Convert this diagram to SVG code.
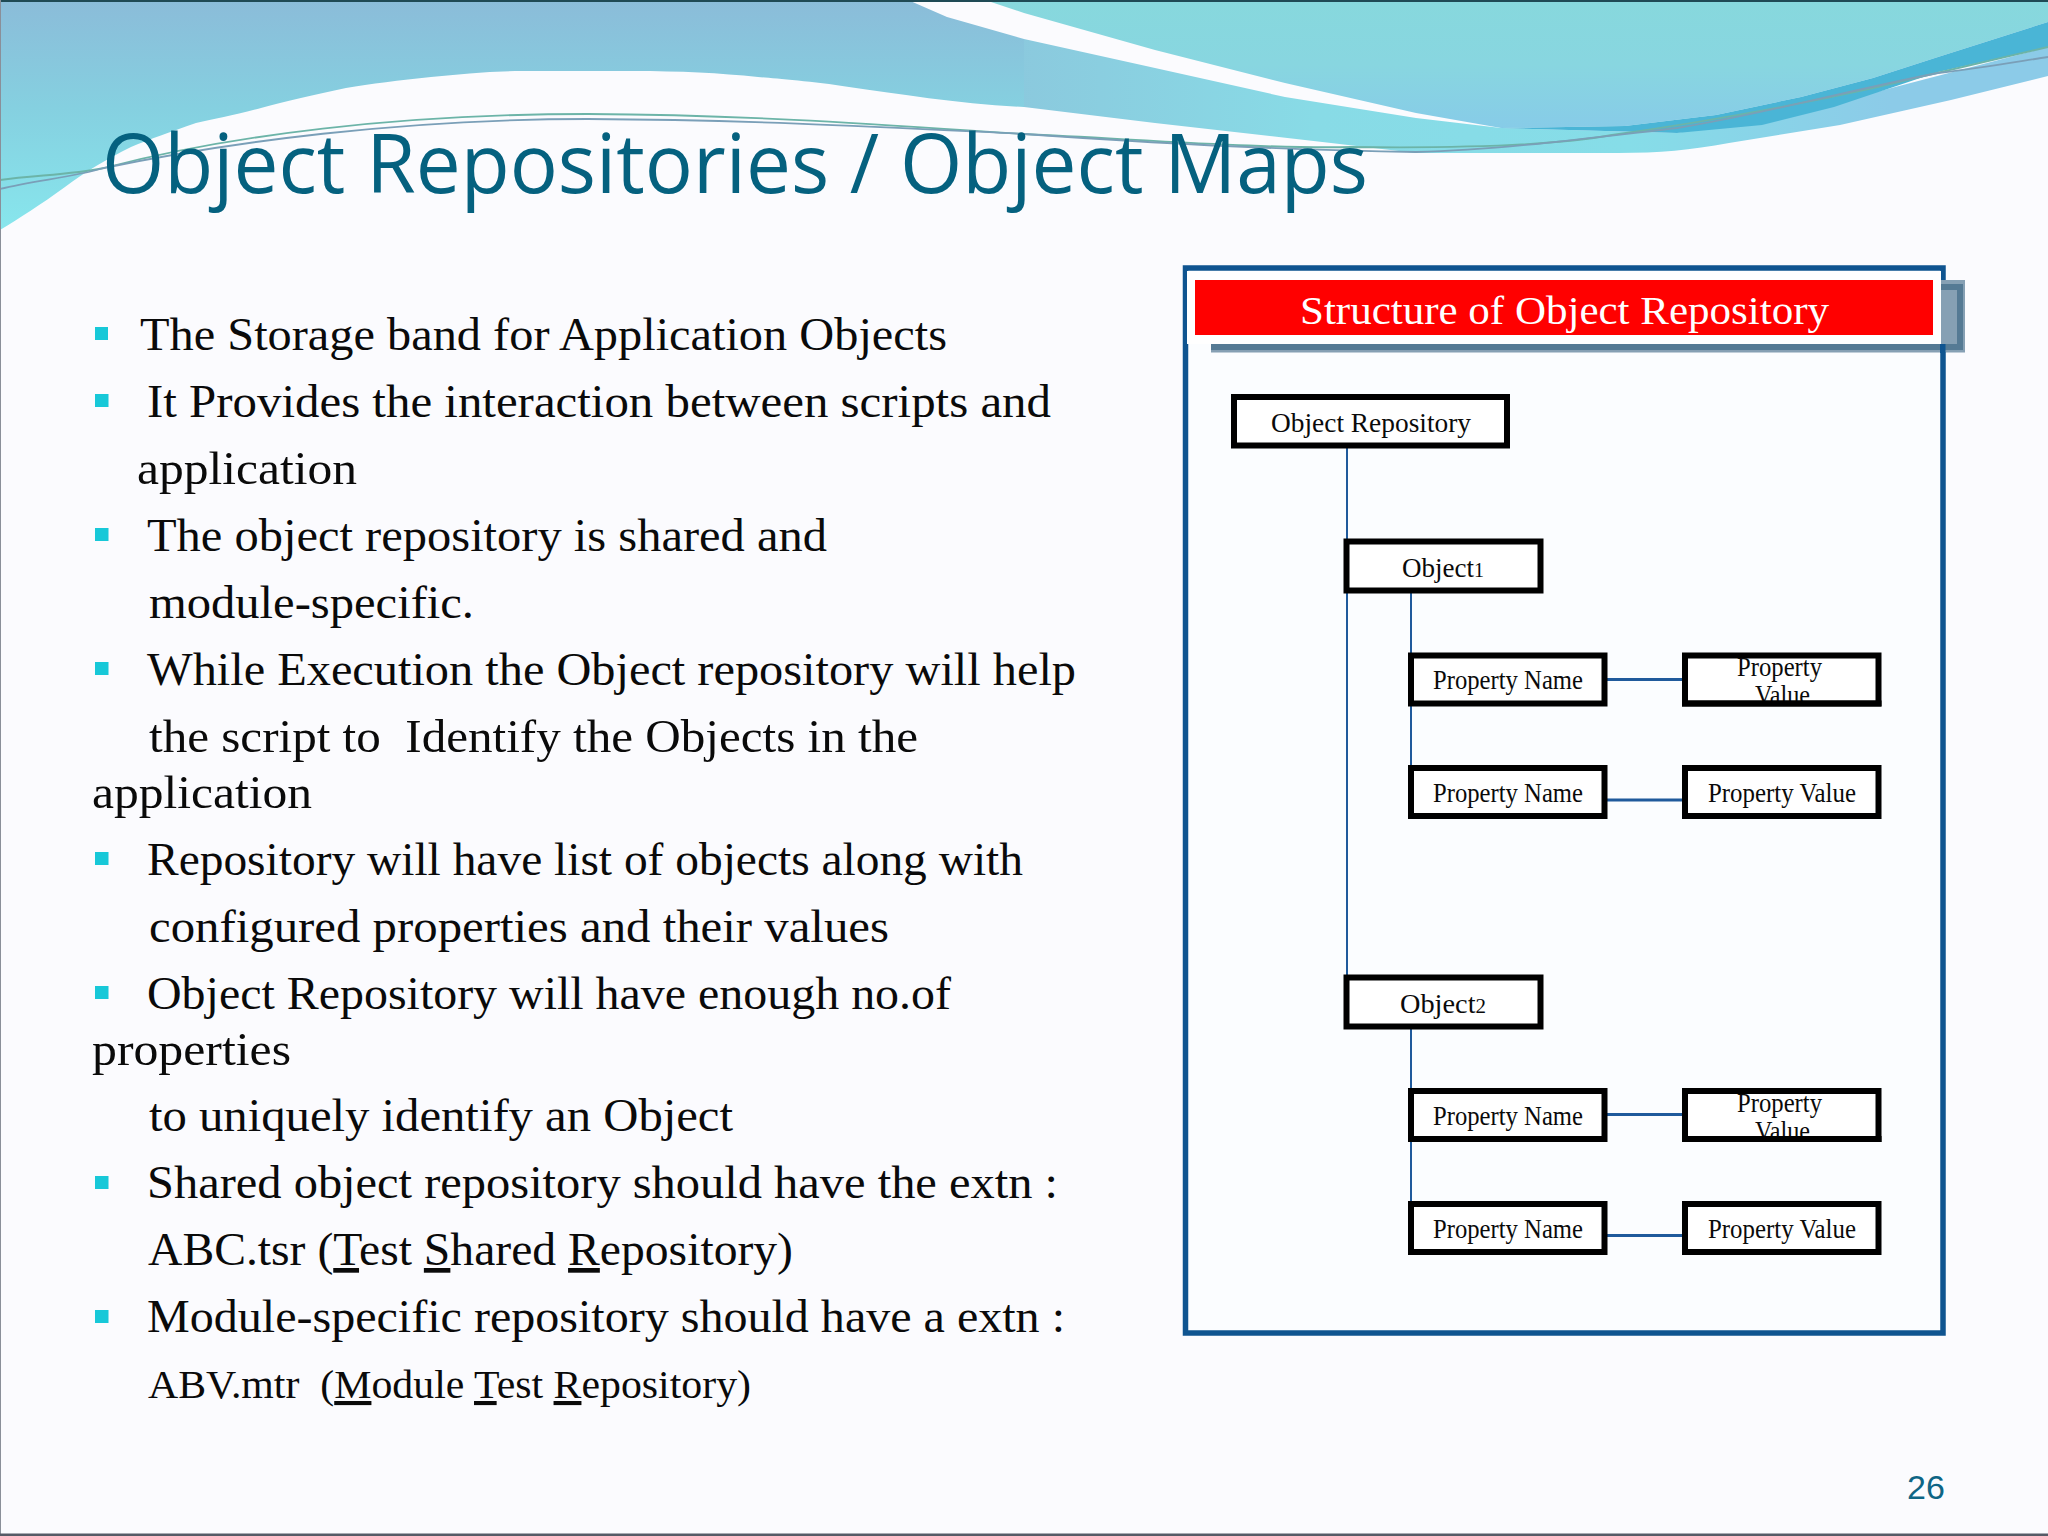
<svg xmlns="http://www.w3.org/2000/svg" width="2048" height="1536" viewBox="0 0 2048 1536">
<style>
.b{font-family:"Liberation Serif",serif;font-size:47px;fill:#0a0a0a}
.s{font-size:41px}
.u{text-decoration:underline}
.n{font-family:"Liberation Serif",serif;font-size:27px;fill:#0a0a0a}
.box{fill:#fff;stroke:#000;stroke-width:6}
.c{stroke:#1f5a9c;stroke-width:2;fill:none}
.h{stroke-width:3}
.bul{fill:#17c8d8}
.ln{fill:none;stroke-width:1.8}
</style>
<defs>
<linearGradient id="g1" gradientUnits="userSpaceOnUse" x1="0" y1="0" x2="0" y2="240"><stop offset="0" stop-color="#8bbcd9"/><stop offset=".45" stop-color="#85d0e0"/><stop offset="1" stop-color="#88e8ee"/></linearGradient>
<linearGradient id="g2" gradientUnits="userSpaceOnUse" x1="0" y1="0" x2="0" y2="130"><stop offset="0" stop-color="#87d8dd"/><stop offset=".5" stop-color="#88d6e0"/><stop offset="1" stop-color="#87cbe8"/></linearGradient>
<linearGradient id="g3" gradientUnits="userSpaceOnUse" x1="1000" y1="0" x2="2048" y2="0"><stop offset="0" stop-color="#8bc8dd"/><stop offset=".3" stop-color="#88dbe6"/><stop offset=".6" stop-color="#86dde8"/><stop offset=".85" stop-color="#8ccbe8"/><stop offset="1" stop-color="#8ccbe8"/></linearGradient>
</defs>
<rect width="2048" height="1536" fill="#fbfbfe"/>
<g id="header">
<path fill="url(#g1)" d="M0 0H908L947 17L1024 39V107C960 104 900 94 849 87C810 81 770 78 758 77C720 73 680 71 633 71H522C490 71 460 74 431 77C400 80 370 84 346 88C315 95 285 101 261 108C235 115 215 119 196 123C170 132 150 139 131 147C105 160 85 172 65 187C40 205 20 218 0 230Z"/>
<path fill="url(#g2)" d="M985 0H2048V22L1938 57L1873 78L1801 97L1716 115L1625 126L1501 128L1416 113L1285 83L1155 50L1024 13Z"/>
<path fill="url(#g3)" d="M1024 39L1155 68L1285 97L1416 118L1501 128L1677 133L1834 103L2048 47V76L1951 100L1840 125L1729 143C1690 150 1660 153 1618 153H1416L1331 143L1155 123L1024 107Z"/>
<path fill="#4ab5d6" d="M1501 128L1625 126L1716 115L1801 97L1873 78L1938 57L2048 22V47L1938 72L1834 107L1762 125L1677 133Z"/>
<path class="ln" stroke="#6cb4a8" d="M0 180C35 175 70 175 104 168C230 135 400 114 588 114C760 115 900 126 1024 134C1150 140 1270 149 1351 147C1430 148 1540 148 1612 135C1700 123 1800 104 1873 88C1940 72 2000 58 2048 47"/>
<path class="ln" stroke="#7a9fb8" d="M0 189C35 180 70 178 104 168C230 142 400 119 588 119C760 120 900 128 1024 134C1150 143 1280 150 1416 152C1500 150 1590 138 1677 128C1760 115 1850 90 1938 73C1980 68 2015 62 2048 57"/>
<rect x="0" y="0" width="2048" height="2" fill="#1f4a55"/>
<rect x="0" y="0" width="1" height="1536" fill="#8a8f99"/>
<rect x="0" y="1533.5" width="2048" height="2.5" fill="#555a66"/>
</g>
<text id="title" x="102" y="193" font-family="Open Sans, sans-serif" font-size="82" fill="#05617f" textLength="1266" lengthAdjust="spacingAndGlyphs">Object Repositories / Object Maps</text>
<g id="bullets">
<g class="bul">
<rect x="95" y="327" width="13" height="13"/>
<rect x="95" y="394" width="13.5" height="13"/>
<rect x="95" y="528" width="13.5" height="13"/>
<rect x="95" y="662" width="13.5" height="13"/>
<rect x="95" y="852" width="13.5" height="13"/>
<rect x="95" y="986" width="13.5" height="13"/>
<rect x="95" y="1176" width="13.5" height="13"/>
<rect x="95" y="1310" width="13.5" height="13"/>
</g>
<text class="b" xml:space="preserve" x="140" y="350" textLength="807" lengthAdjust="spacingAndGlyphs">The Storage band for Application Objects</text>
<text class="b" xml:space="preserve" x="147" y="417" textLength="904" lengthAdjust="spacingAndGlyphs">It Provides the interaction between scripts and</text>
<text class="b" xml:space="preserve" x="137" y="484" textLength="220" lengthAdjust="spacingAndGlyphs">application</text>
<text class="b" xml:space="preserve" x="147" y="551" textLength="680" lengthAdjust="spacingAndGlyphs">The object repository is shared and</text>
<text class="b" xml:space="preserve" x="149" y="618" textLength="325" lengthAdjust="spacingAndGlyphs">module-specific.</text>
<text class="b" xml:space="preserve" x="147" y="685" textLength="929" lengthAdjust="spacingAndGlyphs">While Execution the Object repository will help</text>
<text class="b" xml:space="preserve" x="149" y="752" textLength="769" lengthAdjust="spacingAndGlyphs">the script to  Identify the Objects in the</text>
<text class="b" xml:space="preserve" x="92" y="808" textLength="220" lengthAdjust="spacingAndGlyphs">application</text>
<text class="b" xml:space="preserve" x="147" y="875" textLength="876" lengthAdjust="spacingAndGlyphs">Repository will have list of objects along with</text>
<text class="b" xml:space="preserve" x="149" y="942" textLength="740" lengthAdjust="spacingAndGlyphs">configured properties and their values</text>
<text class="b" xml:space="preserve" x="147" y="1009" textLength="804" lengthAdjust="spacingAndGlyphs">Object Repository will have enough no.of</text>
<text class="b" xml:space="preserve" x="92" y="1065" textLength="199" lengthAdjust="spacingAndGlyphs">properties</text>
<text class="b" xml:space="preserve" x="149" y="1131" textLength="584" lengthAdjust="spacingAndGlyphs">to uniquely identify an Object</text>
<text class="b" xml:space="preserve" x="147" y="1198" textLength="911" lengthAdjust="spacingAndGlyphs">Shared object repository should have the extn :</text>
<text class="b" xml:space="preserve" x="148" y="1265" textLength="645" lengthAdjust="spacingAndGlyphs">ABC.tsr (<tspan class="u">T</tspan>est <tspan class="u">S</tspan>hared <tspan class="u">R</tspan>epository)</text>
<text class="b" xml:space="preserve" x="147" y="1332" textLength="918" lengthAdjust="spacingAndGlyphs">Module-specific repository should have a extn :</text>
<text class="b s" xml:space="preserve" x="148" y="1398" textLength="603" lengthAdjust="spacingAndGlyphs">ABV.mtr  (<tspan class="u">M</tspan>odule <tspan class="u">T</tspan>est <tspan class="u">R</tspan>epository)</text>
</g>
<g id="panel">
<rect x="1185.5" y="268" width="757.5" height="1065" fill="#fbfdff" stroke="#0f5490" stroke-width="5.5"/>
<rect x="1211" y="280" width="754" height="72.5" fill="#86a0b4"/>
<path d="M1940 287H1960V347H1211" fill="none" stroke="#557a94" stroke-width="6"/>
<rect x="1187" y="271" width="754" height="73" fill="#fff"/>
<rect x="1940" y="344" width="5.5" height="9" fill="#0f5490"/>
<rect x="1195" y="280" width="738" height="55" fill="#ff0000"/>
<text x="1300" y="324" font-family="Liberation Serif, serif" font-size="41" fill="#fff" textLength="529" lengthAdjust="spacingAndGlyphs">Structure of Object Repository</text>
</g>
<g id="connectors">
<path class="c" d="M1347 448V975"/>
<path class="c" d="M1411 593V810"/>
<path class="c" d="M1411 1029V1243"/>
<path class="c h" d="M1607 679.5H1683"/>
<path class="c h" d="M1607 800H1683"/>
<path class="c h" d="M1607 1114.5H1683"/>
<path class="c h" d="M1607 1235.5H1683"/>
</g>
<g id="node-object-repository"><rect class="box" x="1234" y="397" width="273" height="48.5"/><text class="n" x="1271" y="432" textLength="200" lengthAdjust="spacingAndGlyphs">Object Repository</text></g>
<g id="node-object1"><rect class="box" x="1346.5" y="541.5" width="194" height="49"/><text class="n" x="1402" y="577" textLength="82" lengthAdjust="spacingAndGlyphs">Object<tspan font-size="20">1</tspan></text></g>
<g id="node-pn1"><rect class="box" x="1411" y="655.5" width="193.5" height="48"/><text class="n" x="1433" y="689" textLength="150" lengthAdjust="spacingAndGlyphs">Property Name</text></g>
<g id="node-pv1"><rect class="box" x="1685" y="655.5" width="193.5" height="48"/><text class="n" x="1737" y="676" textLength="85" lengthAdjust="spacingAndGlyphs">Property</text><text class="n" x="1755" y="704" textLength="55" lengthAdjust="spacingAndGlyphs">Value</text><rect x="1682" y="700.5" width="199.5" height="6" fill="#000"/></g>
<g id="node-pn2"><rect class="box" x="1411" y="768" width="193.5" height="48"/><text class="n" x="1433" y="802" textLength="150" lengthAdjust="spacingAndGlyphs">Property Name</text></g>
<g id="node-pv2"><rect class="box" x="1685" y="768" width="193.5" height="48"/><text class="n" x="1708" y="802" textLength="148" lengthAdjust="spacingAndGlyphs">Property Value</text></g>
<g id="node-object2"><rect class="box" x="1346.5" y="977.5" width="194" height="49"/><text class="n" x="1400" y="1013" textLength="86" lengthAdjust="spacingAndGlyphs">Object<tspan font-size="20">2</tspan></text></g>
<g id="node-pn3"><rect class="box" x="1411" y="1091" width="193.5" height="48"/><text class="n" x="1433" y="1125" textLength="150" lengthAdjust="spacingAndGlyphs">Property Name</text></g>
<g id="node-pv3"><rect class="box" x="1685" y="1091" width="193.5" height="48"/><text class="n" x="1737" y="1112" textLength="85" lengthAdjust="spacingAndGlyphs">Property</text><text class="n" x="1755" y="1140" textLength="55" lengthAdjust="spacingAndGlyphs">Value</text><rect x="1682" y="1136" width="199.5" height="6" fill="#000"/></g>
<g id="node-pn4"><rect class="box" x="1411" y="1204" width="193.5" height="48"/><text class="n" x="1433" y="1238" textLength="150" lengthAdjust="spacingAndGlyphs">Property Name</text></g>
<g id="node-pv4"><rect class="box" x="1685" y="1204" width="193.5" height="48"/><text class="n" x="1708" y="1238" textLength="148" lengthAdjust="spacingAndGlyphs">Property Value</text></g>
<text id="page" x="1907" y="1499" font-family="Liberation Sans, sans-serif" font-size="34" fill="#0e6585">26</text>
</svg>
